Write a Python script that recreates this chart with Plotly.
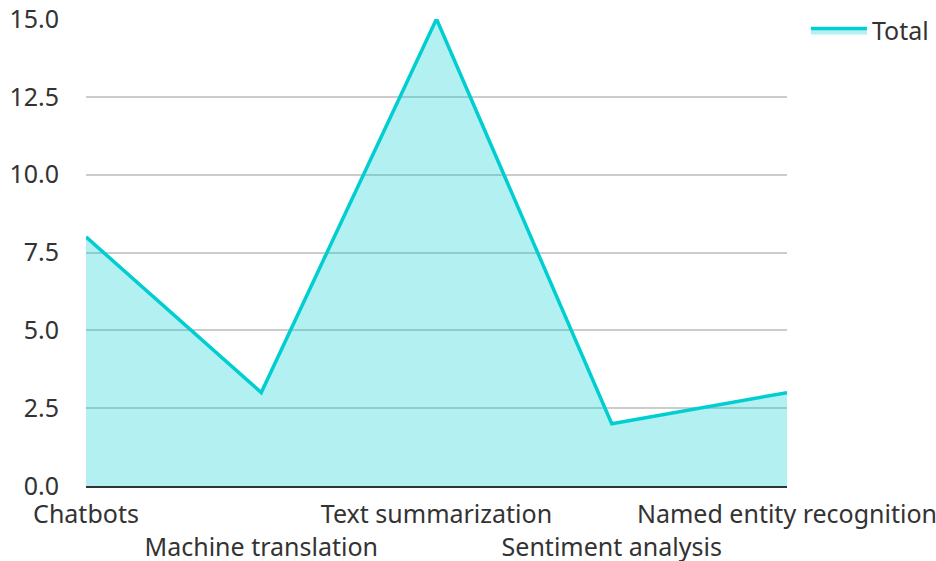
import plotly.graph_objects as go

categories = ["Chatbots", "Machine translation", "Text summarization",
              "Sentiment analysis", "Named entity recognition"]
values = [8, 3, 15, 2, 3]
tick_labels = ["Chatbots", "<br>Machine translation", "Text summarization",
               "<br>Sentiment analysis", "Named entity recognition"]
y_ticks = [0, 2.5, 5, 7.5, 10, 12.5, 15]

FS = 25

fig = go.Figure()
fig.add_trace(go.Scatter(
    x=categories, y=values, name="Total", mode="lines",
    line=dict(color="#00CED1", width=3.5),
    fill="tozeroy", fillcolor="rgba(0,206,209,0.3)",
))

fig.update_layout(
    width=936, height=561,
    margin=dict(l=86, r=149, t=19, b=75, autoexpand=False),
    paper_bgcolor="white", plot_bgcolor="white",
    font=dict(family="Noto Sans", size=FS, color="#333333"),
    showlegend=True,
    legend=dict(x=1.027, y=0.975, xanchor="left", yanchor="middle",
                font=dict(size=FS), bgcolor="rgba(0,0,0,0)",
                itemwidth=56),
)
fig.update_xaxes(
    type="category", range=[0, 4], automargin=False,
    tickmode="array", tickvals=categories, ticktext=tick_labels,
    tickangle=0, tickfont=dict(size=FS),
    showgrid=False, showline=True, linecolor="#333333", linewidth=2,
    ticks="", zeroline=False, ticklabelstandoff=5,
)
fig.update_yaxes(
    range=[0, 15], automargin=False, tickmode="array", tickvals=y_ticks,
    ticktext=[f"{v:.1f}" for v in y_ticks], tickfont=dict(size=FS),
    showgrid=True, gridcolor="#cccccc", gridwidth=1.5,
    zeroline=False, showline=False, ticks="",
    ticklabelstandoff=26,
)

fig.write_html(
    "out.html",
    config={"displayModeBar": False},
    post_script="document.body.style.margin='0';"
                "document.documentElement.style.overflow='hidden';"
                "document.body.style.overflow='hidden';",
)
